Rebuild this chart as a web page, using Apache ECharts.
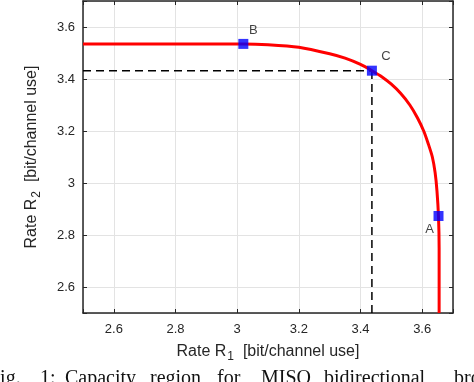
<!DOCTYPE html>
<html>
<head>
<meta charset="utf-8">
<script src="https://cdn.jsdelivr.net/npm/echarts@6/dist/echarts.min.js"></script>
<style>html,body{margin:0;padding:0;background:#fff;}#c{width:474px;height:382px;}</style>
</head>
<body>
<div id="c"></div>
<script>
// Boundary curve of the capacity region
var curveR1 = [2.5, 3.02, 3.1, 3.2, 3.3, 3.35, 3.4, 3.437, 3.47, 3.5, 3.53, 3.56, 3.585, 3.605, 3.62, 3.633, 3.642, 3.648, 3.653, 3.655, 3.655];
var curveR2 = [3.535, 3.535, 3.532, 3.522, 3.497, 3.48, 3.456, 3.432, 3.408, 3.38, 3.345, 3.30, 3.25, 3.20, 3.15, 3.10, 3.04, 2.97, 2.87, 2.75, 2.5];
// Marked points
var pointNames = ['A', 'B', 'C'];
var pointR1 = [3.653, 3.02, 3.437];
var pointR2 = [2.873, 3.535, 3.432];
// Dashed guide lines through C
var dashHR1 = [2.5, 3.437];
var dashHR2 = [3.432, 3.432];
var dashVR1 = [3.437, 3.437];
var dashVR2 = [2.5, 3.432];
// Axes
var xMin = 2.5, xMax = 3.7, yMin = 2.5, yMax = 3.7, tickStep = 0.2;
var captionWords = ['Fig.', '1:', 'Capacity', 'region', 'for', 'MISO', 'bidirectional', 'broadcast'];
var captionX = [-11, 40, 65, 150, 217, 261, 324, 454];

function zip(a, b) { return a.map(function (v, i) { return [v, b[i]]; }); }

var axisCol = '#262626';
var lblOffsets = { A: [-9, 13], B: [10, -13], C: [14, -14] };

function tickFmt(lo, hi) {
  return function (v) {
    var r = Math.round(v * 10) / 10;
    return (Math.abs(r - lo) < 1e-9 || Math.abs(r - hi) < 1e-9) ? '' : String(r);
  };
}
var nameRich = {
  t: { fontFamily: 'Liberation Sans', fontSize: 16, color: axisCol },
  s: { fontFamily: 'Liberation Sans', fontSize: 12, color: axisCol, padding: [11, 0, 0, 1] }
};

var chart = echarts.init(document.getElementById('c'));
chart.setOption({
  animation: false,
  grid: { left: 83, right: 21, top: 1, bottom: 69 },
  xAxis: [{
    type: 'value', min: xMin, max: xMax, minInterval: tickStep, maxInterval: tickStep,
    axisLine: { onZero: false, lineStyle: { color: axisCol, width: 1.5 } },
    axisTick: { inside: true, length: 4, lineStyle: { color: axisCol } },
    axisLabel: { color: axisCol, fontFamily: 'Liberation Sans', fontSize: 13, margin: 10, formatter: tickFmt(xMin, xMax) },
    splitLine: { show: true, lineStyle: { color: '#e3e3e3', width: 1 } },
    name: '{t|Rate R}{s|1}{t|  [bit/channel use]}',
    nameLocation: 'middle', nameGap: 27,
    nameTextStyle: { rich: nameRich }
  }, {
    type: 'value', position: 'top', min: xMin, max: xMax, minInterval: tickStep, maxInterval: tickStep,
    axisLine: { onZero: false, lineStyle: { color: axisCol, width: 1.5 } },
    axisTick: { inside: true, length: 4, lineStyle: { color: axisCol } },
    axisLabel: { show: false }, splitLine: { show: false }
  }],
  yAxis: [{
    type: 'value', min: yMin, max: yMax, minInterval: tickStep, maxInterval: tickStep,
    axisLine: { show: true, onZero: false, lineStyle: { color: axisCol, width: 1.5 } },
    axisTick: { show: true, inside: true, length: 4, lineStyle: { color: axisCol } },
    axisLabel: { color: axisCol, fontFamily: 'Liberation Sans', fontSize: 13, margin: 8, formatter: tickFmt(yMin, yMax) },
    splitLine: { show: true, lineStyle: { color: '#e3e3e3', width: 1 } },
    name: '{t|Rate R}{s|2}{t|  [bit/channel use]}',
    nameLocation: 'middle', nameGap: 40, nameRotate: 90,
    nameTextStyle: { rich: nameRich }
  }, {
    type: 'value', position: 'right', min: yMin, max: yMax, minInterval: tickStep, maxInterval: tickStep,
    axisLine: { show: true, onZero: false, lineStyle: { color: axisCol, width: 1.5 } },
    axisTick: { show: true, inside: true, length: 4, lineStyle: { color: axisCol } },
    axisLabel: { show: false }, splitLine: { show: false }
  }],
  series: [{
    type: 'line', data: zip(dashHR1, dashHR2), symbol: 'none', z: 3,
    lineStyle: { color: '#000', width: 1.5, type: [8, 5] }
  }, {
    type: 'line', data: zip(dashVR1, dashVR2), symbol: 'none', z: 3,
    lineStyle: { color: '#000', width: 1.5, type: [8, 5] }
  }, {
    type: 'line', data: zip(curveR1, curveR2), symbol: 'none', smooth: 0.25, z: 4,
    lineStyle: { color: '#ff0000', width: 3 }
  }, {
    type: 'scatter', z: 5,
    data: pointNames.map(function (n, i) {
      return { value: [pointR1[i], pointR2[i]], name: n,
        label: { show: true, position: 'inside', offset: lblOffsets[n], formatter: n,
          color: '#111', fontFamily: 'Liberation Sans', fontSize: 13 } };
    }),
    symbol: 'rect', symbolSize: 10,
    itemStyle: { color: '#0000ff' }
  }],
  graphic: captionWords.map(function (w, i) {
    return { type: 'text', left: captionX[i], top: 369, silent: true,
      style: { text: w, font: '20px "Liberation Serif"', fill: '#111' } };
  })
});
</script>
</body>
</html>
